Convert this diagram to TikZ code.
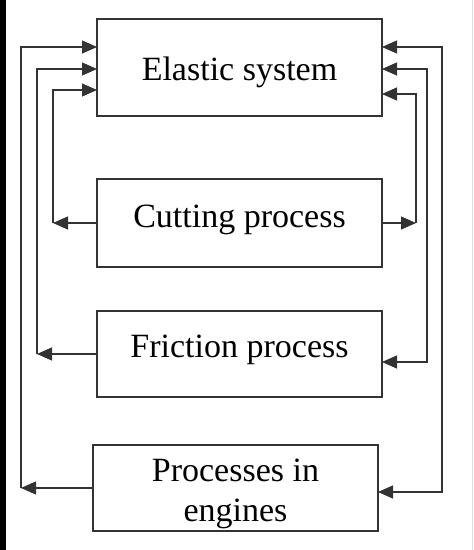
\documentclass[tikz,border=0pt]{standalone}
\usepackage{fontspec}
\setmainfont{Liberation Serif}
\usetikzlibrary{arrows.meta,positioning}

\begin{document}
\begin{tikzpicture}[
  x=1pt, y=1pt,
  font=\fontsize{34}{40}\selectfont,
  node distance=48pt,
  box/.style={draw=black!80, line width=1.5pt, align=center, minimum width=285pt, inner sep=0pt, outer sep=0pt},
  arrow/.style={-{Triangle[length=15pt,width=13pt]}, line width=1.1pt, draw=black!80},
  both/.style={{Triangle[length=15pt,width=13pt]}-{Triangle[length=15pt,width=13pt]}, line width=1.1pt, draw=black!80}
]
\useasboundingbox (0,0) rectangle (474,550);
\fill[white] (0,0) rectangle (474,550);
\fill[black] (0,0) rectangle (6,550);
\draw[black!12, line width=1pt] (472.5,0) -- (472.5,550);

\node[box, minimum height=97pt, text height=30pt, text depth=3pt] (elastic) at (239.5,482.5) {Elastic system};
\node[box, minimum height=88pt, text height=24pt, text depth=15pt, below=63pt of elastic] (cutting) {Cutting process};
\node[box, minimum height=86pt, text height=24pt, text depth=17pt, below=44pt of cutting] (friction) {Friction process};
\node[box, minimum height=86pt, below=of friction, xshift=-4pt] (engines) {\rule{0pt}{34pt}Processes in\\engines};

\draw[arrow] (cutting.west) -- ++(-44,0) coordinate (cutL);
\draw[arrow] (cutL) |- ([yshift=-22.5pt]elastic.west);
\draw[arrow] (friction.west) -- ++(-60,0) coordinate (fricL);
\draw[arrow] (fricL) |- ([yshift=-1.5pt]elastic.west);
\draw[arrow] (engines.west) -- ++(-72,0) coordinate (engL);
\draw[arrow] (engL) |- ([yshift=20.5pt]elastic.west);

\draw[arrow] (cutting.east) -- ++(34,0) coordinate (cutR);
\draw[arrow] (cutR) |- ([yshift=-26.5pt]elastic.east);
\draw[both] ([yshift=-1.5pt]elastic.east) -- ++(45,0) |- ([yshift=-8pt]friction.east);
\draw[both] ([yshift=20.5pt]elastic.east) -- ++(60,0) |- ([yshift=-4pt]engines.east);
\end{tikzpicture}
\end{document}
